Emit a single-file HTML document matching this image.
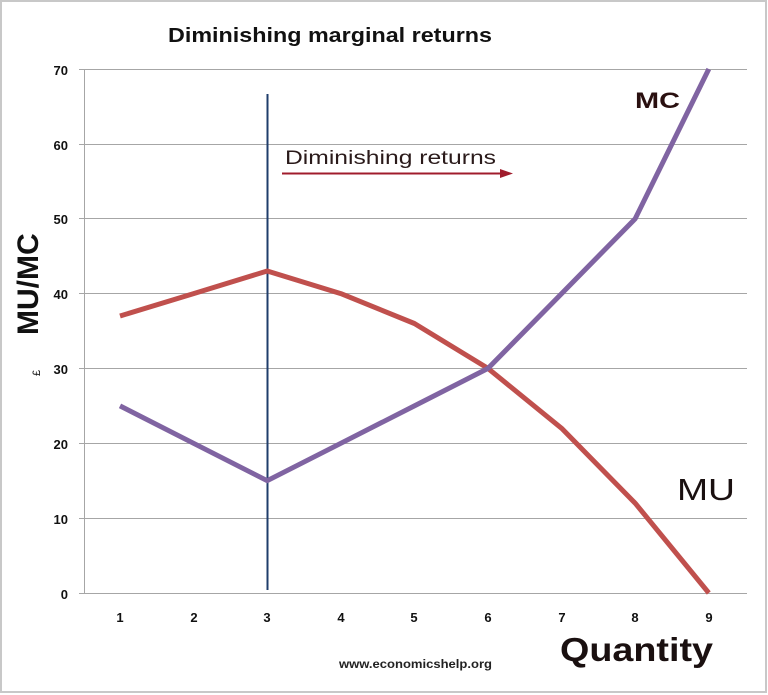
<!DOCTYPE html>
<html><head><meta charset="utf-8"><style>
html,body{margin:0;padding:0;background:#fff;}
svg{display:block;}
</style></head><body>
<svg width="768" height="695" viewBox="0 0 768 695" xmlns="http://www.w3.org/2000/svg" font-family="Liberation Sans, sans-serif">
<rect x="1" y="1" width="765" height="691" fill="#fff" stroke="#c8c8c8" stroke-width="2"/>
<text x="168" y="42" font-size="20" font-weight="bold" fill="#111" textLength="324" lengthAdjust="spacingAndGlyphs">Diminishing marginal returns</text>
<g stroke="#a6a6a6" stroke-width="1">
<line x1="79" y1="69.5" x2="747" y2="69.5"/>
<line x1="79" y1="144.5" x2="747" y2="144.5"/>
<line x1="79" y1="218.5" x2="747" y2="218.5"/>
<line x1="79" y1="293.5" x2="747" y2="293.5"/>
<line x1="79" y1="368.5" x2="747" y2="368.5"/>
<line x1="79" y1="443.5" x2="747" y2="443.5"/>
<line x1="79" y1="518.5" x2="747" y2="518.5"/>
<line x1="79" y1="593.5" x2="747" y2="593.5"/>
<line x1="84.5" y1="69" x2="84.5" y2="594"/>
</g>
<g font-size="13" font-weight="bold" fill="#111" text-anchor="end">
<text x="68" y="75">70</text><text x="68" y="150">60</text><text x="68" y="224">50</text>
<text x="68" y="299">40</text><text x="68" y="374">30</text><text x="68" y="449">20</text>
<text x="68" y="524">10</text><text x="68" y="599">0</text>
</g>
<g font-size="13" font-weight="bold" fill="#111" text-anchor="middle">
<text x="120" y="622">1</text><text x="194" y="622">2</text><text x="267" y="622">3</text>
<text x="341" y="622">4</text><text x="414" y="622">5</text><text x="488" y="622">6</text>
<text x="562" y="622">7</text><text x="635" y="622">8</text><text x="709" y="622">9</text>
</g>
<line x1="267.5" y1="94" x2="267.5" y2="590" stroke="#1f3d6b" stroke-width="2"/>
<polyline fill="none" stroke="#c0504d" stroke-width="5" stroke-linejoin="round" points="120,316 193.6,293.6 267.2,271 340.8,293.6 414.4,323.5 488,368.4 561.6,428.3 635.2,503.2 708.8,593"/>
<polyline fill="none" stroke="#8064a2" stroke-width="5" stroke-linejoin="round" points="120,405.9 193.6,443.3 267.2,480.7 340.8,443.3 414.4,405.9 488,368.4 561.6,293.6 635.2,218.7 708.8,69"/>
<text x="285" y="164" font-size="19" fill="#2a1a1a" textLength="211" lengthAdjust="spacingAndGlyphs">Diminishing returns</text>
<line x1="282" y1="173.5" x2="503" y2="173.5" stroke="#a01c2c" stroke-width="2"/>
<polygon points="513,173.5 500,169 500,178" fill="#a01c2c"/>
<text x="635" y="108" font-size="22" font-weight="bold" fill="#2a1010" textLength="45" lengthAdjust="spacingAndGlyphs">MC</text>
<text x="677" y="500" font-size="31" fill="#1a1010" textLength="58" lengthAdjust="spacingAndGlyphs">MU</text>
<text x="560" y="661" font-size="33" font-weight="bold" fill="#1a1010" textLength="153" lengthAdjust="spacingAndGlyphs">Quantity</text>
<text x="339" y="668" font-size="12" font-weight="bold" fill="#222" textLength="153" lengthAdjust="spacingAndGlyphs">www.economicshelp.org</text>
<text transform="translate(38,335) rotate(-90)" font-size="30" font-weight="bold" fill="#111">MU/MC</text>
<text transform="translate(40,376) rotate(-90)" font-size="11" fill="#111">£</text>
</svg>
</body></html>
